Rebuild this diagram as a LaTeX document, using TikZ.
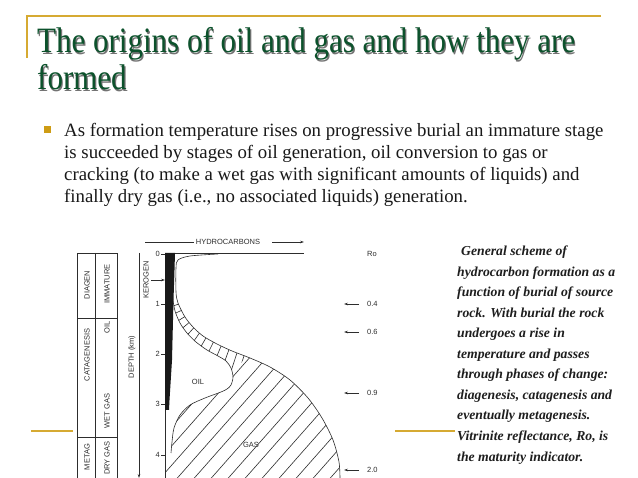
\documentclass[tikz,border=0pt]{standalone}
\usepackage{fontspec}
\setmainfont{Liberation Serif}
\newfontfamily\figsans{Liberation Sans}
\usetikzlibrary{arrows.meta}
\definecolor{titlegreen}{RGB}{12,82,44}
\definecolor{slidegold}{RGB}{214,170,50}
\definecolor{bulletgold}{RGB}{206,156,20}
\definecolor{figink}{RGB}{45,45,45}
\definecolor{captionink}{RGB}{30,30,30}
\newcommand{\tallttl}[1]{\scalebox{1}[1.15]{#1}}
\begin{document}
\begin{tikzpicture}[x=1pt,y=-1pt,
  titletext/.style={anchor=base west, inner sep=0pt, font=\fontsize{31}{35}\selectfont, text=titlegreen},
  titleshadow/.style={anchor=base west, inner sep=0pt, font=\fontsize{31}{35}\selectfont, text=black!55},
  bodytext/.style={anchor=base west, inner sep=0pt, font=\fontsize{18.8}{22}\selectfont, text=black!90},
  captext/.style={anchor=base west, inner sep=0pt, font=\fontsize{13.7}{15}\selectfont\bfseries\itshape, text=captionink},
  figtext/.style={inner sep=0pt, font=\figsans\fontsize{7.5}{8}\selectfont, text=figink},
  figline/.style={draw=figink, line width=0.6pt},
  hatchline/.style={draw=figink, line width=0.6pt},
  goldline/.style={draw=slidegold, line width=1.1pt},
  arrowtip/.style={-{Stealth[length=4pt,width=2.6pt]}}
]
\useasboundingbox (0,0) rectangle (638,478);
\fill[white] (0,0) rectangle (638,478);

% slide decoration
\coordinate (g1) at (27,16);
\coordinate (g2) at (601,16);
\coordinate (g3) at (27,58);
\draw[goldline] (g3) -- (g1) -- (g2);
\coordinate (b1) at (31,431);
\coordinate (b2) at (73,431);
\coordinate (b3) at (395,431);
\coordinate (b4) at (455,431);
\draw[goldline] (b1) -- (b2);
\draw[goldline] (b3) -- (b4);

% title
\node[titleshadow] (t1s) at (38.2,54.2) {\tallttl{The origins of oil and gas and how they are}};
\node[titleshadow] (t2s) at (38.2,91.2) {\tallttl{formed}};
\node[titletext] (t1) at (37,53) {\tallttl{The origins of oil and gas and how they are}};
\node[titletext] (t2) at (37,90) {\tallttl{formed}};

% bullet
\fill[bulletgold] (44,126) rectangle (51,133);
\node[bodytext] (l1) at (64,137) {As formation temperature rises on progressive burial an immature stage};
\node[bodytext] (l2) at (64,159) {is succeeded by stages of oil generation, oil conversion to gas or};
\node[bodytext] (l3) at (64,181) {cracking (to make a wet gas with significant amounts of liquids) and};
\node[bodytext] (l4) at (64,203) {finally dry gas (i.e., no associated liquids) generation.};

% caption
\node[captext] (c1) at (461,256) {General scheme of};
\node[captext] (c2) at (457,277) {hydrocarbon formation as a};
\node[captext] (c3) at (457,297) {function of burial of source};
\node[captext] (c4) at (457,318) {rock. With burial the rock};
\node[captext] (c5) at (457,338) {undergoes a rise in};
\node[captext] (c6) at (457,359) {temperature and passes};
\node[captext] (c7) at (457,379) {through phases of change:};
\node[captext] (c8) at (457,400) {diagenesis, catagenesis and};
\node[captext] (c9) at (457,420) {eventually metagenesis.};
\node[captext] (c10) at (457,441) {Vitrinite reflectance, Ro, is};
\node[captext] (c11) at (457,462) {the maturity indicator.};

% ---------- figure ----------
% stage table
\draw[figline] (77,479) -- (77,253) -- (117,253) -- (117,479);
\draw[figline] (95,253) -- (95,479);
\draw[figline] (77,318) -- (117,318);
\draw[figline] (77,437) -- (117,437);
\node[figtext, rotate=90] (diagen) at (87,285) {DIAGEN};
\node[figtext, rotate=90] (immat) at (107,284) {IMMATURE};
\node[figtext, rotate=90] (catag) at (87,355) {CATAGENESIS};
\node[figtext, rotate=90] (oilst) at (107,327) {OIL};
\node[figtext, rotate=90] (wetgas) at (107,411) {WET GAS};
\node[figtext, rotate=90] (metag) at (87,457) {METAG};
\node[figtext, rotate=90] (drygas) at (107,458) {DRY GAS};

% depth arrow
\node[figtext, rotate=90] (depth) at (132,357) {DEPTH (km)};
\coordinate (da1) at (139,253);
\coordinate (da2) at (139,478);
\draw[figline, arrowtip] (da1) -- (da2);

% kerogen
\node[figtext, rotate=90] (kerogen) at (146,280) {KEROGEN};
\coordinate (ka1) at (151,280);
\coordinate (ka2) at (165,280);
\draw[figline, arrowtip] (ka1) -- (ka2);

% hydrocarbons header
\node[figtext] (hc) at (228,242) {HYDROCARBONS};
\coordinate (h0) at (145,242);
\coordinate (h3) at (304,242);
\draw[figline] (h0) -- ([xshift=-2pt]hc.west);
\draw[figline, arrowtip] ([xshift=12pt]hc.east) -- (h3);

% axis
\coordinate (ax0) at (165,253);
\coordinate (ax1) at (165,479);
\coordinate (top1) at (304,253);
\draw[figline] (ax1) -- (ax0) -- (top1);
\foreach \d/\yy in {0/254,1/304,2/354,3/404,4/455}{
  \coordinate (tk\d) at (165,\yy);
  \draw[figline] (tk\d) -- ++(-4,0) node[figtext, anchor=east, xshift=-1pt] (tl\d) {\d};
}

% hatching
\begin{scope}[even odd rule]
  \clip plot[smooth] coordinates {(218,254) (190,256) (178,260) (176,268) (176,292) (178,303) (185,317) (193,327) (203,336) (217,344) (232,351) (250,358) (270,367) (290,380) (308,398) (322,418) (333,440) (339,462) (340,479)} -- (340,490) -- (166,490) -- (166,254) -- cycle;
  \clip (100,230) rectangle (400,490)
     plot[smooth] coordinates {(173,300) (175,311) (180,323) (187,333) (196,342) (207,350) (218,356) (226,361) (231,368) (233,377) (231,385) (227,389) (221,392) (205,398) (190,405) (180,415) (174,428) (172,442) (171,453)} -- (160,453) -- (160,300) -- cycle;
  \begin{scope}
    \clip (150,240) -- (364,240) -- (232,372) -- (150,372) -- cycle;
    \foreach \px/\py/\a in {176/305/20, 178/312/25, 181/319/32, 185/326/40, 190/332/48, 196/338/55, 203/343/60, 211/347/64, 219/351/67, 227/355/70, 235/359/72, 242/362/72}{
      \draw[hatchline] ({\px-16*cos(\a)},{\py+16*sin(\a)}) -- ({\px+16*cos(\a)},{\py-16*sin(\a)});
    }
  \end{scope}
  \begin{scope}
    \clip (100,230) rectangle (400,490) (150,240) -- (364,240) -- (232,372) -- (150,372) -- cycle;
    \foreach \k in {-8,...,12}{
      \draw[hatchline] ({177+17*\k-12},{492}) -- ({177+17*\k+230},{492-274});
    }
  \end{scope}
\end{scope}

% envelope and oil boundary
\draw[figline] plot[smooth] coordinates {(218,254) (190,256) (178,260) (176,268) (176,292) (178,303) (185,317) (193,327) (203,336) (217,344) (232,351) (250,358) (270,367) (290,380) (308,398) (322,418) (333,440) (339,462) (340,479)};
\draw[figline] plot[smooth] coordinates {(173,300) (175,311) (180,323) (187,333) (196,342) (207,350) (218,356) (226,361) (231,368) (233,377) (231,385) (227,389) (221,392) (205,398) (190,405) (180,415) (174,428) (172,442) (171,453)};

% kerogen bar
\fill[black!90] (165,253) -- (175,253) -- (174.5,270) -- (173.5,300) -- (172,360) -- (169.5,400) -- (169,410) -- (165,410) -- cycle;

\node[figtext] (oil) at (198,382) {OIL};
\node[figtext] (gas) at (251,445) {GAS};

% Ro scale
\node[figtext, anchor=west] (ro) at (367,254) {Ro};
\foreach \i/\v/\yy in {1/0.4/304,2/0.6/332,3/0.9/393,4/2.0/470}{
  \coordinate (ra\i) at (359,\yy);
  \coordinate (rb\i) at (344,\yy);
  \draw[figline, arrowtip] (ra\i) -- (rb\i);
  \node[figtext, anchor=west] (rl\i) at (367,\yy) {\v};
}
\end{tikzpicture}
\end{document}
